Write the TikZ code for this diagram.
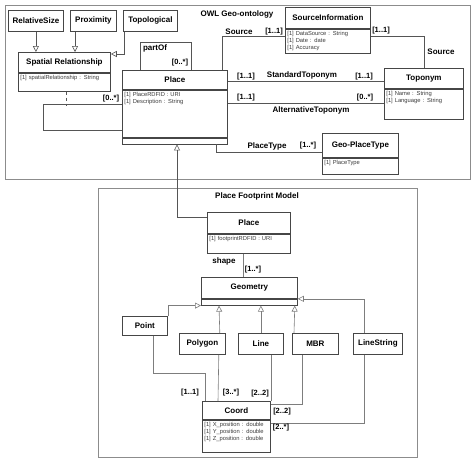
\documentclass[tikz,border=0pt]{standalone}
\usepackage{fontspec}
\setmainfont{Liberation Sans}
\usetikzlibrary{arrows.meta,positioning,calc}
\definecolor{BoxLine}{RGB}{70,70,70}
\definecolor{LinkGrey}{RGB}{85,85,85}
\definecolor{LinkLight}{RGB}{125,125,125}
\definecolor{FrameGrey}{RGB}{140,140,140}
\definecolor{AttrInk}{RGB}{60,60,60}
\newcommand{\attrlist}[2]{\parbox[t][#1][t]{\linewidth}{#2}}
\tikzset{
  frame/.style={draw=FrameGrey, line width=0.8pt, anchor=north west, inner sep=0pt},
  frametitle/.style={font=\bfseries\fontsize{8}{9}\selectfont, inner sep=0pt},
  cls/.style={draw=BoxLine, line width=0.8pt, fill=white, anchor=north west, inner sep=0pt,
    font=\bfseries\fontsize{8}{9}\selectfont},
  attr/.style={draw=BoxLine, line width=0.8pt, fill=white, anchor=north west, inner sep=2pt,
    align=left, text=AttrInk, font=\fontsize{5.8}{7}\selectfont},
  opsbox/.style={draw=BoxLine, line width=0.8pt, fill=white, anchor=north west, inner sep=0pt},
  lbl/.style={font=\bfseries\fontsize{8}{9}\selectfont, inner sep=0pt},
  mult/.style={font=\bfseries\fontsize{7.5}{9}\selectfont, inner sep=0pt},
  assoc/.style={draw=LinkGrey, line width=0.6pt},
  assoclt/.style={draw=LinkLight, line width=0.6pt},
  gen/.style={-{Triangle[open, length=6pt, width=6pt]}, draw=LinkGrey, line width=0.6pt},
  genlt/.style={gen, draw=LinkLight},
}

\begin{document}
\begin{tikzpicture}[x=1pt,y=-1pt]
\useasboundingbox (0,0) rectangle (474,461);

% ================= package frames =================
\node[frame, minimum width=465, minimum height=174] (owl) at (5,5) {};
\node[frame, minimum width=319, minimum height=269] (fpm) at (98,188) {};
\node[frametitle] (owltitle) at (237,14) {OWL Geo-ontology};
\node[frametitle] (fpmtitle) at (257,196) {Place Footprint Model};

% ================= OWL Geo-ontology classes =================
\node[cls, minimum width=55, minimum height=21] (relsize) at (8,10) {RelativeSize};
\node[cls, minimum width=46, minimum height=21] (prox) at (70,10) {Proximity};
\node[cls, minimum width=54, minimum height=21] (topo) at (123,10) {Topological};

\node[cls, minimum width=92, minimum height=20] (sprel) at (18,52) {Spatial Relationship};
\node[attr, text width=88] (sprel-a) at (sprel.south west) {\attrlist{14pt}{[1] spatialRelationship : String}};

\node[cls, minimum width=105, minimum height=19] (place) at (122,70) {Place};
\node[attr, text width=101] (place-a) at (place.south west)
  {\attrlist{43pt}{[1] PlaceRDFID : URI\\ {[1]} Description : String}};
\node[opsbox, minimum width=105, minimum height=6] (place-o) at (place-a.south west) {};

\node[cls, minimum width=85, minimum height=21] (srcinfo) at (285,7) {SourceInformation};
\node[attr, text width=81] (srcinfo-a) at (srcinfo.south west)
  {\attrlist{20pt}{[1] DataSource : String\\ {[1]} Date : date\\ {[1]} Accuracy}};

\node[cls, minimum width=79, minimum height=20] (toponym) at (384,68) {Toponym};
\node[attr, text width=75] (toponym-a) at (toponym.south west)
  {\attrlist{26pt}{[1] Name : String\\ {[1]} Language : String}};

\node[cls, minimum width=76, minimum height=24] (geotype) at (322,133) {Geo-PlaceType};
\node[attr, text width=72] (geotype-a) at (geotype.south west) {\attrlist{12pt}{[1] PlaceType}};

% generalisations into Spatial Relationship
\coordinate (proxtip) at (prox.south west |- sprel.north);
\draw[gen] (relsize.south) -- (relsize.south |- sprel.north);
\draw[gen] ([xshift=5pt]prox.south west) -- ([xshift=5pt]proxtip);
\draw[gen] ([xshift=1pt]topo.south west) |- ([yshift=-2pt]sprel.north east);

% associations
\draw[assoc] ([xshift=18pt]place.north west) -- ++(0,-28) -| ([xshift=69pt]place.north west);
\draw[assoc] ([xshift=-6pt]place.north east) |- ([yshift=-29pt]srcinfo.north west);
\draw[assoc] ([yshift=-29pt]srcinfo.north east) -| (toponym.north);
\draw[assoc] ([yshift=-11pt]place.north east) -- ([yshift=-13pt]toponym.north west);
\draw[assoc] ([yshift=-33pt]place.north east) -- ([yshift=-35pt]toponym.north west);
\draw[assoc] ([xshift=-12pt]place-o.south east) |- ([yshift=-7pt]geotype.west);
\draw[assoc] ([yshift=-34pt]place.north west) -- ++(-79,0) -- ++(0,26) -- ([yshift=-60pt]place.north west);
\draw[assoc, dashed] ([xshift=48pt]sprel-a.south west) -- ++(0,14);

\node[lbl] (lpartof) at (155,48) {partOf};
\node[mult] (mpartof) at (180,63) {[0..*]};
\node[lbl] (lsrc1) at (239,32) {Source};
\node[mult] (msrc1) at (274,32) {[1..1]};
\node[mult] (msrc2) at (381,31) {[1..1]};
\node[lbl] (lsrc2) at (441,52) {Source};
\node[mult] (mstd1) at (246,77) {[1..1]};
\node[lbl] (lstd) at (302,75) {StandardToponym};
\node[mult] (mstd2) at (364,77) {[1..1]};
\node[mult] (malt1) at (246,98) {[1..1]};
\node[mult] (malt2) at (365,98) {[0..*]};
\node[lbl] (lalt) at (311,110) {AlternativeToponym};
\node[lbl] (ltype) at (267,146) {PlaceType};
\node[mult] (mtype) at (308,146) {[1..*]};
\node[mult] (mloop) at (111,99) {[0..*]};

% ================= Place Footprint Model classes =================
\node[cls, minimum width=83, minimum height=21] (fplace) at (207,212) {Place};
\node[attr, text width=79] (fplace-a) at (fplace.south west) {\attrlist{15pt}{[1] footprintRDFID : URI}};

\node[cls, minimum width=96, minimum height=21] (geom) at (201,277) {Geometry};
\node[opsbox, minimum width=96, minimum height=6] (geom-a) at (geom.south west) {};

\node[cls, minimum width=45, minimum height=19] (point) at (122,316) {Point};
\node[cls, minimum width=46, minimum height=21] (polygon) at (179,333) {Polygon};
\node[cls, minimum width=45, minimum height=21] (line) at (238,333) {Line};
\node[cls, minimum width=46, minimum height=21] (mbr) at (292,333) {MBR};
\node[cls, minimum width=49, minimum height=21] (linestr) at (353,333) {LineString};

\node[cls, minimum width=68, minimum height=18] (coord) at (202,401) {Coord};
\node[attr, text width=64] (coord-a) at (coord.south west)
  {\attrlist{28pt}{[1] X\_position : double\\ {[1]} Y\_position : double\\ {[1]} Z\_position : double}};

% footprint place specialises the ontology place
\draw[gen] ([yshift=-5pt]fplace.north west) -| ([xshift=55pt]place-o.south west);
\draw[assoclt] ([xshift=36pt]fplace-a.south west) -- ([xshift=42pt]geom.north west);

% geometry hierarchy
\draw[genlt] (point.north east) |- (geom-a.south west);
\draw[genlt] ([xshift=-6pt]polygon.north east) -- ([xshift=18pt]geom-a.south west);
\draw[genlt] (line.north) -- (line.north |- geom-a.south);
\draw[genlt] ([xshift=2pt]mbr.north west) -- ([xshift=-3pt]geom-a.south east);
\draw[genlt] ([xshift=11pt]linestr.north west) |- (geom.south east);

% coordinates
\draw[assoclt] ([xshift=-15pt]point.south east) -- ++(0,37) -| ([xshift=3pt]coord.north west);
\draw[assoclt] ([xshift=-7pt]polygon.south east) -- ([xshift=16pt]coord.north west);
\draw[assoclt] ([xshift=-13pt]line.south east) -- (coord.north east);
\draw[assoclt] ([xshift=10pt]mbr.south west) |- ([yshift=-3pt]coord.north east);
\draw[assoclt] ([xshift=11pt]linestr.south west) |- ([yshift=-22pt]coord.north east);

\node[lbl] (lshape) at (224,261) {shape};
\node[mult] (mshape) at (253,270) {[1..*]};
\node[mult] (mpt) at (190,393) {[1..1]};
\node[mult] (mpoly) at (231,393) {[3..*]};
\node[mult] (mline) at (260,394) {[2..2]};
\node[mult] (mmbr) at (282,412) {[2..2]};
\node[mult] (mls) at (281,428) {[2..*]};

\end{tikzpicture}
\end{document}
